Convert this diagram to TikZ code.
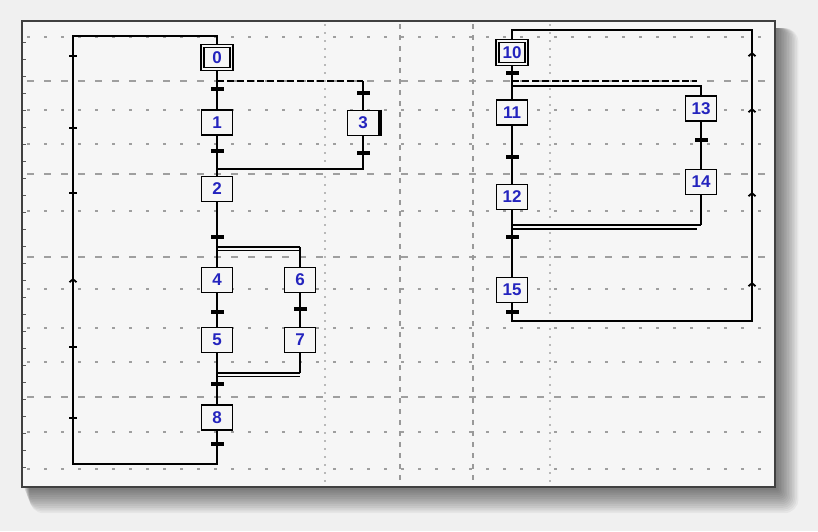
\documentclass[tikz,border=0pt]{standalone}
\usepackage{fontspec}
\newfontfamily\stepfont{Liberation Sans}
\usepackage{tikz}
\usetikzlibrary{arrows.meta}
\usepackage{xcolor}
\definecolor{stepblue}{RGB}{36,36,190}
\tikzstyle{stepbox} = [draw, line width=1.8pt, fill=gray!7, minimum width=31, minimum height=25, inner sep=0pt, text=stepblue, font=\stepfont\bfseries\fontsize{17}{17}\selectfont]
\tikzstyle{initstep} = [stepbox, line width=1.6pt, double=gray!7, double distance=1.4pt, minimum width=28.5, minimum height=23]
\tikzstyle{trans} = [fill=black, minimum width=13, minimum height=4, inner sep=0pt]
\tikzstyle{link} = [draw, line width=1.8pt]
\tikzstyle{linkdash} = [draw, line width=1.8pt, dash pattern=on 7pt off 3pt]
\tikzstyle{twin} = [draw, line width=1.2pt]
\tikzstyle{retarrow} = [draw, line width=1.8pt, -{Straight Barb[length=3pt,width=7pt]}]
\tikzstyle{gridline} = [draw, gray!75, line width=1.4pt, dash pattern=on 3pt off 14pt]
\tikzstyle{gridlong} = [draw, gray!75, line width=1.4pt, dash pattern=on 7pt off 10pt]
\tikzstyle{gridvert} = [draw, gray!55, line width=1.3pt, dash pattern=on 2pt off 6pt]
\tikzstyle{gridvertdark} = [draw, gray!80, line width=1.3pt, dash pattern=on 5pt off 6pt]

\begin{document}
\begin{tikzpicture}[x=1pt, y=-1pt]
                \useasboundingbox (0,0) rectangle (818,531);
                \fill [gray!12] (0,0) rectangle (818,531);
                \foreach \i in {1,...,14}
                    \fill [black, opacity=0.045, rounded corners=\i] ({24+0.4*\i},28) rectangle ({776+1.6*\i},{488+1.8*\i});
                \draw [black!75, fill=gray!7, line width=1.5pt] (22,21) rectangle (775,487);
                \foreach \y in {37,110,144,211,289,328,362,432,469}
                    \path [gridline] (27,\y) -- (773,\y);
                \foreach \y in {81,174,257,397}
                    \path [gridlong] (27,\y) -- (773,\y);
                \foreach \x in {325,550}
                    \path [gridvert] (\x,24) -- (\x,485);
                \foreach \x in {400,473}
                    \path [gridvertdark] (\x,24) -- (\x,485);
                \foreach \y in {42,59,...,480}
                    \draw [gray!70!black, line width=1pt] (23,\y) -- (25.5,\y);
                \node [initstep] (s0) at (217,57.5) {0};
                \node [stepbox] (s1) at (217,122.5) {1};
                \node [stepbox] (s3) at (363,123) {3};
                \node [stepbox] (s2) at (217,189) {2};
                \node [stepbox] (s4) at (217,280) {4};
                \node [stepbox] (s6) at (300,280) {6};
                \node [stepbox] (s5) at (217,340) {5};
                \node [stepbox] (s7) at (300,340) {7};
                \node [stepbox] (s8) at (217,417.5) {8};
                \node [trans] (t0) at (217,89) {};
                \node [trans] (t3a) at (363,93) {};
                \node [trans] (t1) at (217,151) {};
                \node [trans] (t3b) at (363,153) {};
                \node [trans] (t2) at (217,237) {};
                \node [trans] (t4) at (217,312) {};
                \node [trans] (t6) at (300,309) {};
                \node [trans] (t5) at (217,384) {};
                \node [trans] (t8) at (217,444) {};
                \coordinate (d0) at (217,81);
                \coordinate (d3) at (363,81);
                \coordinate (c1) at (217,169);
                \coordinate (c3) at (363,169);
                \coordinate (p2a) at (217,247);
                \coordinate (p6a) at (300,247);
                \coordinate (p2b) at (217,250.5);
                \coordinate (p6b) at (300,250.5);
                \coordinate (q5a) at (217,373);
                \coordinate (q7a) at (300,373);
                \coordinate (q5b) at (217,376.5);
                \coordinate (q7b) at (300,376.5);
                \coordinate (r8) at (217,464);
                \coordinate (r0) at (73,464);
                \coordinate (r0t) at (73,36);
                \coordinate (s0t) at (217,36);
                \path [link] (s0) -- (t0) -- (s1) -- (t1) -- (s2) -- (t2) -- (s4) -- (t4) -- (s5) -- (t5) -- (s8);
                \path [linkdash] (d0) -- (d3);
                \path [link] (d3) -- (t3a) -- (s3) -- (t3b) -- (c3) -- (c1);
                \draw [line width=2.8pt] ([xshift=1pt]s3.north east) -- ([xshift=1pt]s3.south east);
                \path [twin] (p2a) -- (p6a);
                \path [twin] (p2b) -- (p6b);
                \path [link] (p6a) -- (s6) -- (t6) -- (s7) -- (q7a);
                \path [twin] (q5a) -- (q7a);
                \path [twin] (q5b) -- (q7b);
                \path [link] (s8) -- (t8) -- (r8) -- (r0) -- (r0t) -- (s0t) -- (s0);
                \foreach \y in {56,128,193,347,418}
                    \draw [line width=2.2pt] (69,\y) -- (77,\y);
                \path [retarrow] (73,285) -- (73,278);
                \node [initstep] (s10) at (512,52.5) {10};
                \node [stepbox] (s11) at (512,112.5) {11};
                \node [stepbox] (s13) at (701,108.5) {13};
                \node [stepbox] (s14) at (701,182) {14};
                \node [stepbox] (s12) at (512,197) {12};
                \node [stepbox] (s15) at (512,290) {15};
                \node [trans] (t10) at (512,73) {};
                \node [trans] (t11) at (512,157) {};
                \node [trans] (t13) at (701,140) {};
                \node [trans] (t12) at (512,237) {};
                \node [trans] (t15) at (512,312) {};
                \coordinate (e0) at (512,81);
                \coordinate (e13) at (697,81);
                \coordinate (f0) at (512,86);
                \coordinate (f13) at (701,86);
                \coordinate (g0) at (512,225);
                \coordinate (g14) at (701,225);
                \coordinate (h0) at (512,229);
                \coordinate (h14) at (697,229);
                \coordinate (k15) at (512,321);
                \coordinate (k1) at (752,321);
                \coordinate (k2) at (752,30);
                \coordinate (k0) at (512,30);
                \path [link] (s10) -- (t10) -- (s11) -- (t11) -- (s12) -- (t12) -- (s15) -- (t15) -- (k15) -- (k1) -- (k2) -- (k0) -- (s10);
                \path [linkdash] (e0) -- (e13);
                \path [link] (f0) -- (f13) -- (s13) -- (t13) -- (s14) -- (g14);
                \path [twin] (g0) -- (g14);
                \path [twin] (h0) -- (h14);
                \foreach \y in {52,108,192,282}
                    \path [retarrow] (752,\y+7) -- (752,\y);
            \end{tikzpicture}
\end{document}
